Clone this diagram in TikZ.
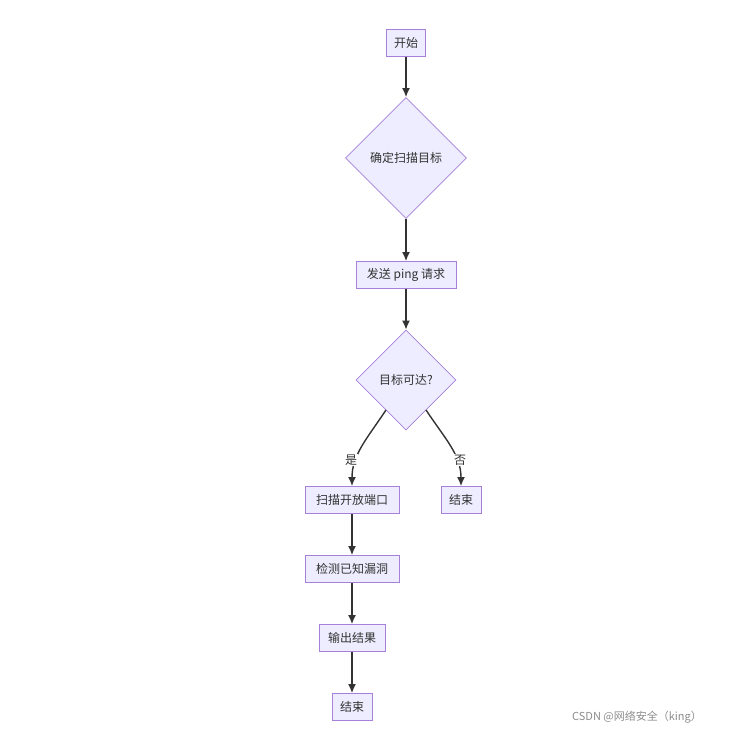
\documentclass[tikz,border=0pt]{standalone}
\usepackage{fontspec}
\setmainfont{Noto Sans CJK SC}
\usetikzlibrary{shapes.geometric,arrows.meta}
\begin{document}
\begin{tikzpicture}[x=1pt,y=-1pt,
  box/.style={draw=violet!60!blue!50,fill=blue!7,line width=0.8pt,rectangle,minimum height=27pt,inner sep=0pt,font=\fontsize{12}{14}\selectfont,text=black!80},
  dia/.style={draw=violet!60!blue!50,fill=blue!7,line width=0.8pt,diamond,inner sep=0pt,font=\fontsize{12}{14}\selectfont,text=black!80},
  arr/.style={draw=black!80,line width=1.4pt,-{Latex[length=9pt,width=8pt]}},
  lbl/.style={fill=white,inner sep=1pt,font=\fontsize{12}{14}\selectfont,text=black!80}]
\useasboundingbox (0,0) rectangle (729,730);
\node[box,minimum width=39pt] (start) at (406,43) {开始};
\node[dia,minimum width=121pt,minimum height=121pt] (d1) at (406,158) {确定扫描目标};
\node[box,minimum width=100pt] (ping) at (406,275) {发送 ping 请求};
\node[dia,minimum width=100pt,minimum height=100pt] (d2) at (406,380) {目标可达?};
\node[box,minimum width=94pt] (scan) at (352,500) {扫描开放端口};
\node[box,minimum width=40pt] (end1) at (461,500) {结束};
\node[box,minimum width=94pt] (vuln) at (352,569) {检测已知漏洞};
\node[box,minimum width=66pt] (out) at (352,638) {输出结果};
\node[box,minimum width=40pt] (end2) at (352,707) {结束};
\coordinate (a1) at (386,410);
\coordinate (a2) at (426,410);
\draw[arr] (start) -- (d1);
\draw[arr] (d1) -- (ping);
\draw[arr] (ping) -- (d2);
\draw[arr] (a1) .. controls (366,440) and (352,455) .. (scan.north);
\draw[arr] (a2) .. controls (446,440) and (461,455) .. (end1.north);
\node[lbl] (ly) at (351,460) {是};
\node[lbl] (ln) at (460,460) {否};
\draw[arr] (scan) -- (vuln);
\draw[arr] (vuln) -- (out);
\draw[arr] (out) -- (end2);
\node[text=black!45,font=\fontsize{11}{13}\selectfont] (wm) at (637,717) {CSDN @网络安全（king）};
\end{tikzpicture}
\end{document}
